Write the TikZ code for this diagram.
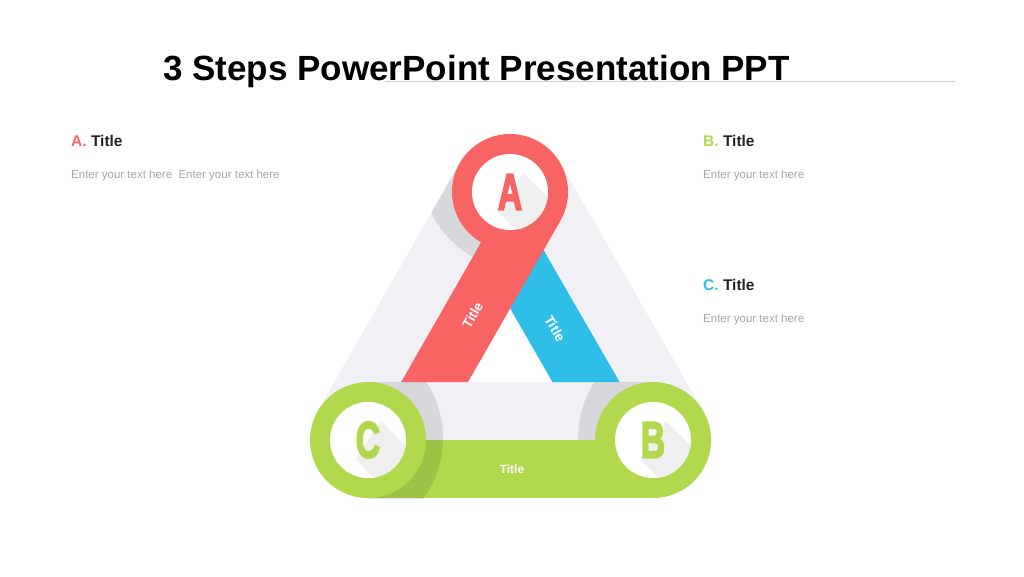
\documentclass[tikz,border=0pt]{standalone}
\usepackage{fontspec}
\usepackage{graphicx}
\setmainfont{Liberation Sans}
\newfontfamily\heavyfont[FakeBold=4]{Liberation Sans}
\usetikzlibrary{calc}
\definecolor{cred}{HTML}{F86464}
\definecolor{cblue}{HTML}{2EBEE8}
\definecolor{cgreen}{HTML}{B2D84E}
\definecolor{cband}{HTML}{F1F0F4}
\definecolor{cdark}{HTML}{222222}
\definecolor{ctext}{HTML}{A6A6A6}
\definecolor{cline}{HTML}{CCCCCC}
\definecolor{clong}{HTML}{EFEFEF}
\tikzset{
  ring/.style={circle, inner sep=0pt, minimum size=116pt},
  hole/.style={circle, fill=white, inner sep=0pt, minimum size=76pt},
  letter/.style={inner sep=0pt, font=\fontsize{51}{51}\heavyfont\bfseries},
  shade/.style={fill=black, opacity=0.1},
  rlabel/.style={inner sep=0pt, text=white, font=\fontsize{13.5}{13.5}\selectfont\bfseries},
  head/.style={anchor=base west, inner sep=0pt, text=cdark, font=\fontsize{15.5}{15.5}\selectfont\bfseries},
  body/.style={anchor=base west, inner sep=0pt, text=ctext, font=\fontsize{11.5}{11.5}\selectfont},
}
\begin{document}
\begin{tikzpicture}[x=1pt,y=-1pt]
\useasboundingbox (0,0) rectangle (1024,576);
\fill[white] (0,0) rectangle (1024,576);

% title
\node[anchor=base, inner sep=0pt, font=\fontsize{35}{35}\selectfont\bfseries] (title) at (476.5,80) {3 Steps PowerPoint Presentation PPT};
\coordinate (r1) at (385,81.5);
\coordinate (r2) at (955,81.5);
\draw[cline, line width=1pt] (r1) -- (r2);

% centres
\coordinate (a) at (510,192);
\coordinate (b) at (653,440);
\coordinate (c) at (368,440);

% grey band
\draw[cband, line width=116pt, line join=round] (a) -- (b) -- (c) -- cycle;

% shadow of B
\begin{scope}
  \clip (560,382) rectangle (653,440);
  \fill[shade] (681,438) circle[radius=103];
\end{scope}

% blue ribbon
\fill[cblue] (a) -- (619.6,382) -- (552.5,382) -- (476.7,250.1) -- cycle;

% shadow of A
\begin{scope}
  \clip (459.7,163.2) -- (560.3,220.8) -- (461,394.2) -- (360.4,336.6) -- cycle;
  \fill[shade] (523.9,167.7) circle[radius=103];
\end{scope}

% red ribbon
\fill[cred] (a) -- (560.3,220.8) -- (468,382) -- (401.2,382) -- cycle;
% green ribbon
\fill[cgreen] (368,440) rectangle (653,498);
% shadow of C
\begin{scope}
  \clip (368,382) rectangle (470,498);
  \fill[shade] (340,438) circle[radius=103];
\end{scope}

% circles
\foreach \n/\p/\col in {C/c/cgreen, B/b/cgreen, A/a/cred}{
  \node[ring, fill=\col] (ring\n) at (\p) {};
  \node[hole] (hole\n) at (\p) {};
  \begin{scope}
    \clip (\p) circle[radius=38];
    \fill[clong] ($(\p)+(13,-19)$) -- ++(70,70) -- ($(\p)+(-13+70,19+70)$) -- ($(\p)+(-13,19)$) -- cycle;
  \end{scope}
  \node[letter, text=\col] (let\n) at (\p) {\scalebox{0.66}[1]{\n}};
}

% ribbon labels
\node[rlabel, rotate=60] (tred) at (472.5,315.5) {Title};
\node[rlabel, rotate=-60] (tblue) at (555,328.5) {Title};
\node[rlabel, font=\fontsize{12}{12}\selectfont\bfseries] (tgreen) at (512,469) {Title};

% side texts
\node[head] (ha) at (71,146) {\textcolor{cred}{A.} Title};
\node[body] (ta) at (71,178) {Enter your text here\ \ Enter your text here};
\node[head] (hb) at (703,146) {\textcolor{cgreen}{B.} Title};
\node[body] (tb) at (703,178) {Enter your text here};
\node[head] (hc) at (703,290) {\textcolor{cblue}{C.} Title};
\node[body] (tc) at (703,322) {Enter your text here};
\end{tikzpicture}
\end{document}
